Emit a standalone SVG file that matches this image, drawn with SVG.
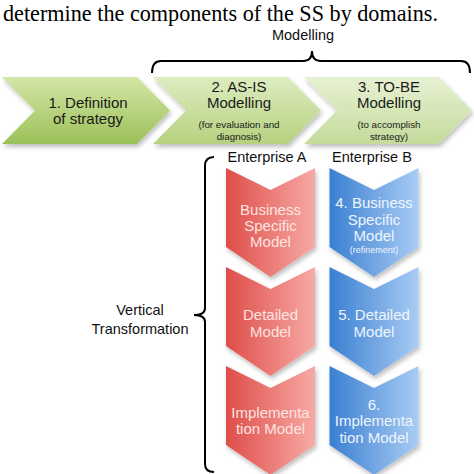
<svg xmlns="http://www.w3.org/2000/svg" width="474" height="474" viewBox="0 0 474 474">
  <defs>
    <linearGradient id="g1" x1="0" y1="0" x2="0" y2="1">
      <stop offset="0" stop-color="#d3e6a6"/>
      <stop offset="1" stop-color="#9cc158"/>
    </linearGradient>
    <linearGradient id="g2" x1="0" y1="0" x2="0" y2="1">
      <stop offset="0" stop-color="#deecc0"/>
      <stop offset="1" stop-color="#b5d17f"/>
    </linearGradient>
    <linearGradient id="g3" x1="0" y1="0" x2="0" y2="1">
      <stop offset="0" stop-color="#e7f1d3"/>
      <stop offset="1" stop-color="#c4db9b"/>
    </linearGradient>
    <linearGradient id="red" x1="0" y1="0" x2="1" y2="0">
      <stop offset="0" stop-color="#df4d49"/>
      <stop offset="1" stop-color="#f7aaa5"/>
    </linearGradient>
    <linearGradient id="blue" x1="0" y1="0" x2="1" y2="0">
      <stop offset="0" stop-color="#3a7fd1"/>
      <stop offset="1" stop-color="#a9ccf4"/>
    </linearGradient>
    <filter id="sh" x="-10%" y="-10%" width="130%" height="140%">
      <feDropShadow dx="1.5" dy="3" stdDeviation="2" flood-color="#000" flood-opacity="0.25"/>
    </filter>
  </defs>
  <style>
    .lbl { font-family: "Liberation Sans", Arial, sans-serif; font-size: 14.5px; fill: #111; text-anchor: middle; }
    .ct { font-family: "Liberation Sans", Arial, sans-serif; font-size: 15px; fill: #1a1a1a; text-anchor: middle; }
    .sm { font-family: "Liberation Sans", Arial, sans-serif; font-size: 9.8px; fill: #1a1a1a; text-anchor: middle; }
    .rt { font-family: "Liberation Sans", Arial, sans-serif; font-size: 15px; fill: #fde4e1; text-anchor: middle; }
    .bt { font-family: "Liberation Sans", Arial, sans-serif; font-size: 15px; fill: #eef5fd; text-anchor: middle; }
    .bsm { font-family: "Liberation Sans", Arial, sans-serif; font-size: 9px; fill: #eef5fd; text-anchor: middle; }
    .br { fill: none; stroke: #000; stroke-width: 2; }
    .chev { filter: url(#sh); }
  </style>
  <rect width="474" height="474" fill="#fff"/>

  <text x="3" y="21" font-family="'Liberation Serif', 'Times New Roman', serif" font-size="22.2" fill="#000" textLength="435" lengthAdjust="spacingAndGlyphs">determine the components of the SS by domains.</text>

  <text class="lbl" x="303" y="40">Modelling</text>
  <text class="lbl" x="267" y="162">Enterprise A</text>
  <text class="lbl" x="372" y="162">Enterprise B</text>
  <text class="lbl" x="140" y="315">Vertical</text>
  <text class="lbl" x="140" y="334">Transformation</text>

  <g id="connectors">
    <path class="br" d="M152,73 Q152,61 161,61 L303,61 Q312,61 312,51 Q312,61 321,61 L461,61 Q470,61 470,73"/>
    <path class="br" d="M214,157 Q205,157 205,166 L205,308 Q205,315 194,315 Q205,315 205,322 L205,464 Q205,472 214,472"/>
  </g>

  <g id="step1">
    <polygon class="chev" points="2,77 137,77 170,110.5 137,144 2,144 35,110.5" fill="url(#g1)"/>
    <text class="ct" x="88" y="108">1. Definition</text>
    <text class="ct" x="88" y="124">of strategy</text>
  </g>
  <g id="step2">
    <polygon class="chev" points="153,77 288,77 321,110.5 288,144 153,144 186,110.5" fill="url(#g2)"/>
    <text class="ct" x="239" y="92">2. AS-IS</text>
    <text class="ct" x="239" y="108">Modelling</text>
    <text class="sm" x="239" y="128">(for evaluation and</text>
    <text class="sm" x="239" y="140">diagnosis)</text>
  </g>
  <g id="step3">
    <polygon class="chev" points="304,77 439,77 472,110.5 439,144 304,144 337,110.5" fill="url(#g3)"/>
    <text class="ct" x="389" y="92">3. TO-BE</text>
    <text class="ct" x="389" y="108">Modelling</text>
    <text class="sm" x="389" y="128">(to accomplish</text>
    <text class="sm" x="389" y="140">strategy)</text>
  </g>

  <g id="a-business">
    <polygon class="chev" points="226,168 270.5,190 315,168 315,247 270.5,277 226,247" fill="url(#red)"/>
    <text class="rt" x="270.5" y="215">Business</text>
    <text class="rt" x="270.5" y="231">Specific</text>
    <text class="rt" x="270.5" y="247">Model</text>
  </g>
  <g id="a-detailed">
    <polygon class="chev" points="226,267 270.5,289 315,267 315,346 270.5,376 226,346" fill="url(#red)"/>
    <text class="rt" x="270.5" y="320">Detailed</text>
    <text class="rt" x="270.5" y="337">Model</text>
  </g>
  <g id="a-implementation">
    <polygon class="chev" points="226,366 270.5,388 315,366 315,445 270.5,475 226,445" fill="url(#red)"/>
    <text class="rt" x="270.5" y="418">Implementa</text>
    <text class="rt" x="270.5" y="434">tion Model</text>
  </g>

  <g id="b-business">
    <polygon class="chev" points="329.5,168 374,190 418.5,168 418.5,247 374,277 329.5,247" fill="url(#blue)"/>
    <text class="bt" x="374" y="208">4. Business</text>
    <text class="bt" x="374" y="225">Specific</text>
    <text class="bt" x="374" y="241">Model</text>
    <text class="bsm" x="374" y="253">(refinement)</text>
  </g>
  <g id="b-detailed">
    <polygon class="chev" points="329.5,267 374,289 418.5,267 418.5,346 374,376 329.5,346" fill="url(#blue)"/>
    <text class="bt" x="374" y="320">5. Detailed</text>
    <text class="bt" x="374" y="337">Model</text>
  </g>
  <g id="b-implementation">
    <polygon class="chev" points="329.5,366 374,388 418.5,366 418.5,445 374,475 329.5,445" fill="url(#blue)"/>
    <text class="bt" x="374" y="410">6.</text>
    <text class="bt" x="374" y="426">Implementa</text>
    <text class="bt" x="374" y="443">tion Model</text>
  </g>
</svg>
